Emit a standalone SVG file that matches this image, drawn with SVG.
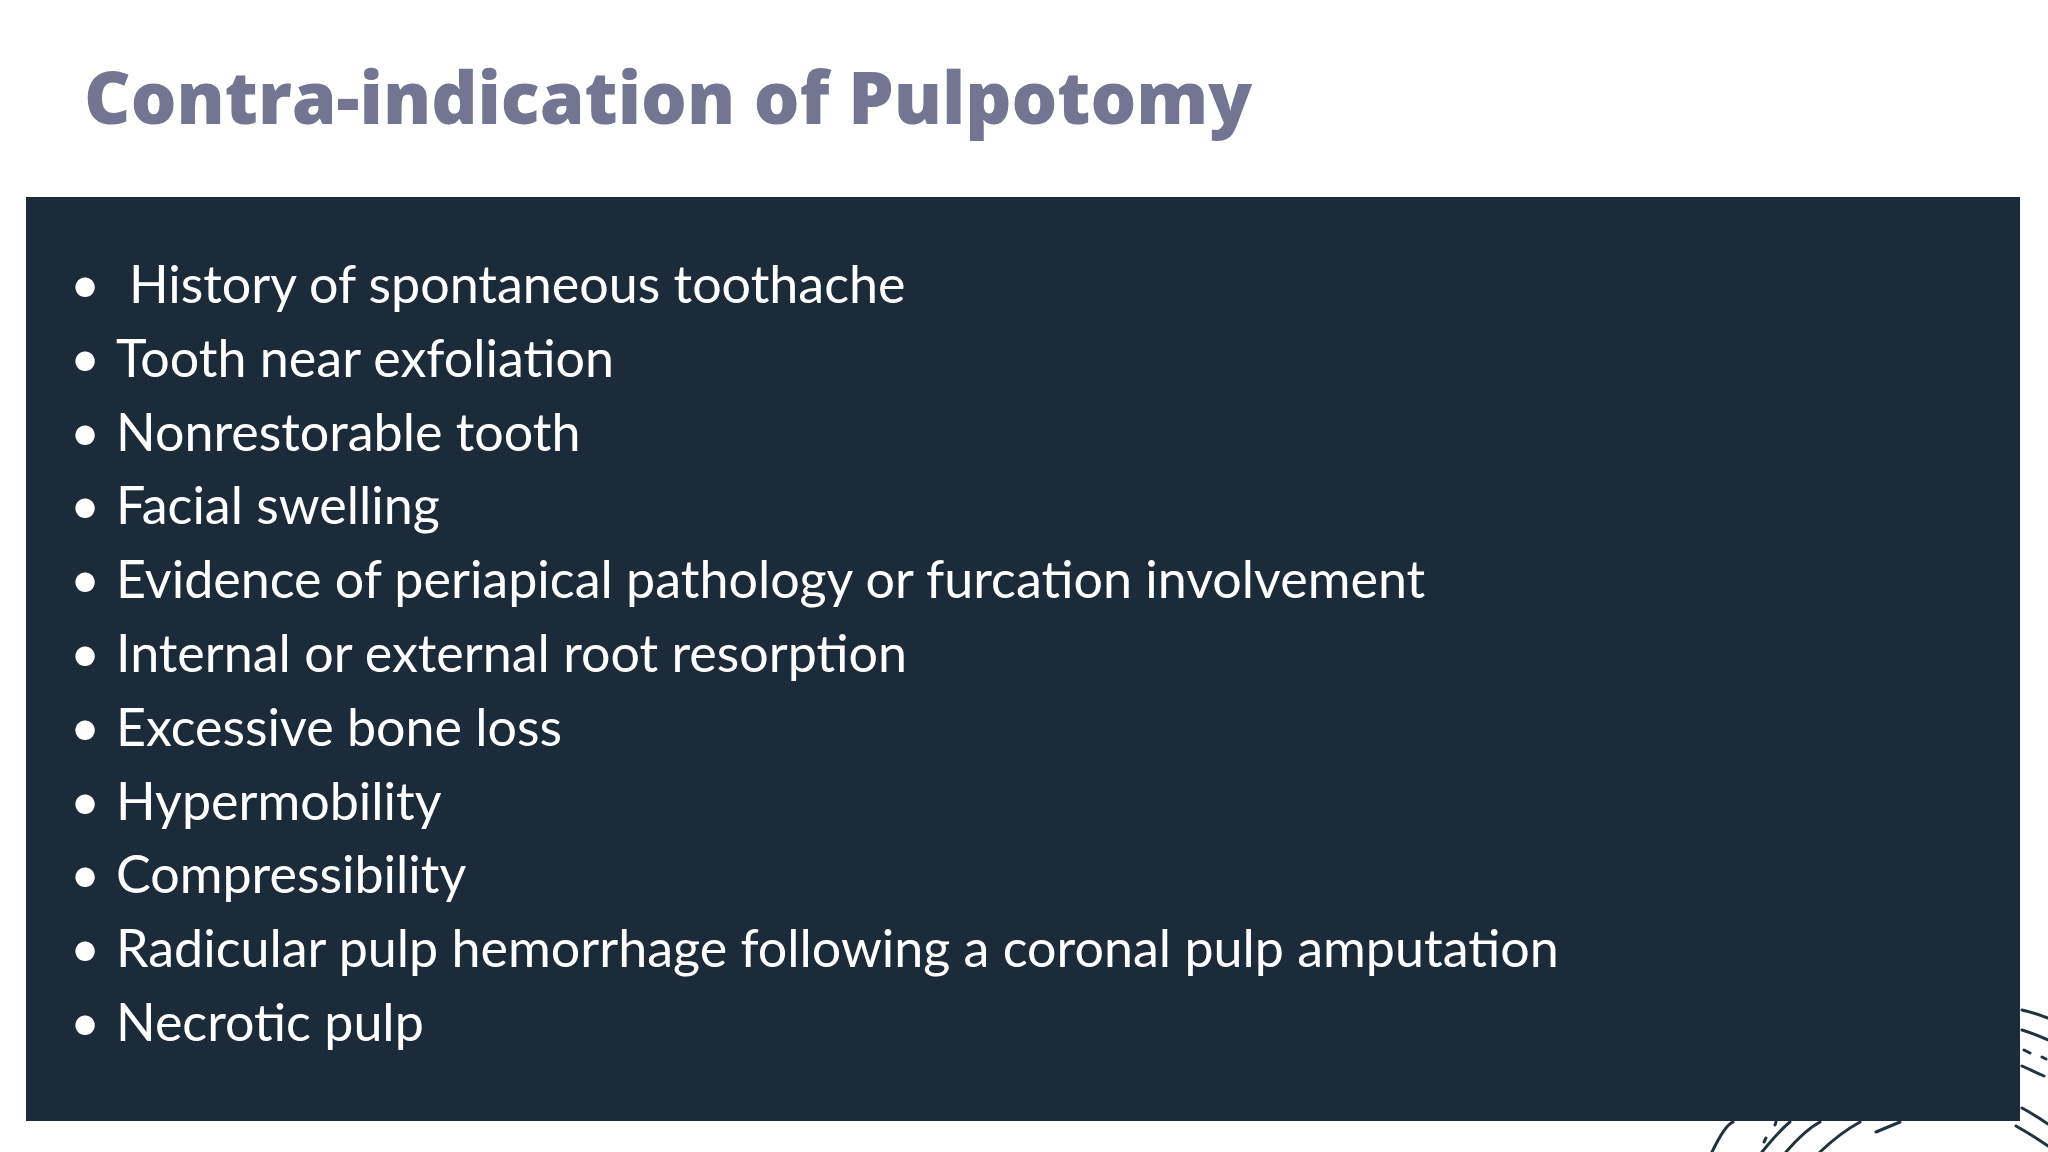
<svg xmlns="http://www.w3.org/2000/svg" width="2048" height="1152" viewBox="0 0 2048 1152">
<style>
.t{font-family:Lato,"Open Sans",sans-serif;font-size:52px;fill:#ffffff}
.d{fill:none;stroke:#1f3440;stroke-width:3;stroke-linecap:round}
</style>
<rect width="2048" height="1152" fill="#ffffff"/>
<g id="deco">
<path class="d" d="M1712 1152 Q1725 1125 1733 1122"/>
<path class="d" d="M1762 1152 Q1780 1130 1790 1122"/>
<path class="d" d="M1786 1152 Q1805 1130 1820 1122"/>
<path class="d" d="M1820 1152 Q1840 1133 1860 1122"/>
<path class="d" d="M1876 1132 L1900 1122"/>
<path class="d" d="M1764 1142 L1766 1138"/>
<path class="d" d="M1775 1125 L1776 1122"/>
<path class="d" d="M2022 1010 Q2035 1013 2048 1018"/>
<path class="d" d="M2022 1030 Q2035 1034 2048 1040"/>
<path class="d" d="M2024 1050 L2030 1053 M2042 1057 L2046 1059"/>
<path class="d" d="M2022 1066 Q2035 1072 2044 1076"/>
<path class="d" d="M2022 1108 Q2035 1115 2048 1124"/>
<path class="d" d="M2016 1126 Q2032 1135 2048 1146"/>
</g>
<g id="title"><text x="84" y="124" font-family="'Open Sans',sans-serif" font-weight="800" font-size="72" fill="#737593">Contra-indication of Pulpotomy</text></g>
<g id="panel">
<rect x="26" y="197" width="1994" height="924" fill="#1c2b3a"/>
<g class="t">
<text x="70" y="303">•</text><text x="129" y="303">History of spontaneous toothache</text>
<text x="70" y="377">•</text><text x="116" y="377">Tooth near exfoliation</text>
<text x="70" y="451">•</text><text x="116" y="451">Nonrestorable tooth</text>
<text x="70" y="524">•</text><text x="116" y="524">Facial swelling</text>
<text x="70" y="598">•</text><text x="116" y="598">Evidence of periapical pathology or furcation involvement</text>
<text x="70" y="672">•</text><text x="116" y="672">Internal or external root resorption</text>
<text x="70" y="746">•</text><text x="116" y="746">Excessive bone loss</text>
<text x="70" y="820">•</text><text x="116" y="820">Hypermobility</text>
<text x="70" y="893">•</text><text x="116" y="893">Compressibility</text>
<text x="70" y="967">•</text><text x="116" y="967">Radicular pulp hemorrhage following a coronal pulp amputation</text>
<text x="70" y="1041">•</text><text x="116" y="1041">Necrotic pulp</text>
</g>
</g>
</svg>
